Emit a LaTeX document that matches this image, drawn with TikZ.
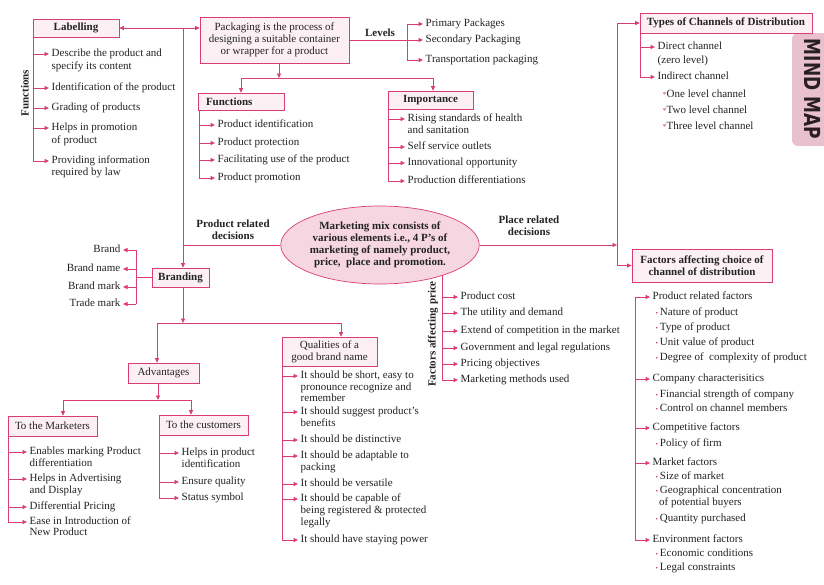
\documentclass[tikz,border=0pt]{standalone}
\usepackage{fontspec}
\setmainfont{Liberation Serif}
\newfontfamily\tabfont{DejaVu Sans}
\usetikzlibrary{arrows.meta,shapes.geometric,backgrounds}
\definecolor{pk}{RGB}{218,62,112}
\definecolor{boxfill}{RGB}{252,240,244}
\definecolor{ellfill}{RGB}{246,214,225}
\definecolor{tabfill}{RGB}{232,192,206}
\definecolor{tabtxt}{RGB}{40,30,35}
\definecolor{txt}{RGB}{35,35,35}
\newcommand\myfs{\fontsize{11}{12}\selectfont}
\newcommand\bul{\textcolor{pk}{\scriptsize\textbullet}\,}
\newcommand\stx{\textcolor{pk}{\footnotesize *}}
\begin{document}
\begin{tikzpicture}[x=1pt,y=-1pt,
 every node/.style={text=txt},
 ln/.style={draw=pk,line width=0.8pt},
 arr/.style={ln,-{Triangle[length=4.5pt,width=4pt]}},
 darr/.style={ln,{Triangle[length=4.5pt,width=4pt]}-{Triangle[length=4.5pt,width=4pt]}},
 box/.style={draw=pk,fill=boxfill,line width=0.7pt,inner sep=0pt,align=center,font=\myfs},
 bbox/.style={box,font=\myfs\bfseries},
 itm/.style={anchor=west,inner xsep=2.5pt,inner ysep=0pt,text height=7pt,text depth=2pt,font=\myfs},
 ritm/.style={itm,anchor=east},
 lbl/.style={font=\myfs\bfseries,align=center,inner sep=0pt},
]
\useasboundingbox (0,0) rectangle (824,584);

% MIND MAP tab
\fill[tabfill,rounded corners=6pt] (792,33) rectangle (836,146);
\node[rotate=-90,inner sep=0pt,font=\tabfont\bfseries\fontsize{17}{17}\selectfont,text=tabtxt] (mind) at (813,89) {\scalebox{1}[1.3]{MIND MAP}};

% Labelling
\node[bbox,minimum width=86,minimum height=18] (lab) at (76,28) {Labelling};
\node[lbl,rotate=90] (labfn) at (25,93) {Functions};
\node[itm] (l1) at (49,54) {Describe the product and};
\node[itm] (l1b) at (49,67) {specify its content};
\node[itm] (l2) at (49,88) {Identification of the product};
\node[itm] (l3) at (49,108) {Grading of products};
\node[itm] (l4) at (49,128) {Helps in promotion};
\node[itm] (l4b) at (49,141) {of product};
\node[itm] (l5) at (49,161) {Providing information};
\node[itm] (l5b) at (49,173) {required by law};
\coordinate (labv) at ([xshift=1pt]lab.south west);
\draw[arr] (labv) |- (l5.west);
\foreach \n in {l1,l2,l3,l4} \draw[arr] (labv |- \n.west) -- (\n.west);

% Packaging
\node[box,minimum width=149,minimum height=46] (pack) at (274.5,40) {Packaging is the process of\\designing a suitable container\\or wrapper for a product};
\draw[darr] (lab.east) -- (pack.west |- lab.east);
\coordinate (j1) at (183,28);

% Levels
\coordinate (lv) at (407,40);
\node[lbl] (lev) at (380,33) {Levels};
\node[itm] (p1) at (423,24) {Primary Packages};
\node[itm] (p2) at (423,40) {Secondary Packaging};
\node[itm] (p3) at (423,60) {Transportation packaging};
\draw[ln] (pack.east) -- (lv |- pack.east);
\draw[ln] (lv |- p1.west) -- (lv |- p3.west);
\foreach \n in {p1,p2,p3} \draw[arr] (lv |- \n.west) -- (\n.west);

% Functions / Importance of packaging
\coordinate (pk1) at (279,78);
\coordinate (pkL) at (241,78);
\coordinate (pkR) at (433,78);
\node[bbox,minimum width=86,minimum height=17] (fn) at (241,101.5) {\makebox[70pt][l]{Functions}};
\node[bbox,minimum width=85,minimum height=18] (imp) at (430.5,100) {Importance};
\draw[arr] (pack.south -| pk1) -- (pk1);
\draw[ln] (pkL) -- (pkR);
\draw[arr] (pkL) -- (pkL |- fn.north);
\draw[arr] (pkR) -- (pkR |- imp.north);

\node[itm] (f1) at (215,125) {Product identification};
\node[itm] (f2) at (215,143) {Product protection};
\node[itm] (f3) at (215,160) {Facilitating use of the product};
\node[itm] (f4) at (215,178) {Product promotion};
\coordinate (fnv) at ([xshift=2pt]fn.south west);
\draw[arr] (fnv) |- (f4.west);
\foreach \n in {f1,f2,f3} \draw[arr] (fnv |- \n.west) -- (\n.west);

\node[itm] (i1) at (405,119) {Rising standards of health};
\node[itm] (i1b) at (405,131) {and sanitation};
\node[itm] (i2) at (405,147) {Self service outlets};
\node[itm] (i3) at (405,163) {Innovational opportunity};
\node[itm] (i4) at (405,181) {Production differentiations};
\coordinate (impv) at ([xshift=1pt]imp.south west);
\draw[arr] (impv) |- (i4.west);
\foreach \n in {i1,i2,i3} \draw[arr] (impv |- \n.west) -- (\n.west);

% Central ellipse
\node[ellipse,draw=pk,fill=ellfill,line width=0.7pt,minimum width=186,minimum height=78,inner sep=0pt,align=center,font=\myfs\bfseries] (mm) at (380,245) {Marketing mix consists of\\various elements i.e., 4 P’s of\\marketing of namely product,\\price,\ \ place and promotion.};

% Branding
\node[bbox,minimum width=57,minimum height=19] (brand) at (180.5,277.5) {Branding};
\draw[arr] (j1) -- (j1 |- brand.north);
\draw[ln] (j1 |- mm.west) -- (mm.west);
\node[lbl] (prd) at (233,230) {Product related\\decisions};

\coordinate (bv) at (136,278);
\node[ritm] (b1) at (123,250) {Brand};
\node[ritm] (b2) at (123,269) {Brand name};
\node[ritm] (b3) at (123,287) {Brand mark};
\node[ritm] (b4) at (123,304) {Trade mark};
\draw[ln] (brand.west) -- (bv |- brand.west);
\draw[ln] (bv |- b1.east) -- (bv |- b4.east);
\foreach \n in {b1,b2,b3,b4} \draw[arr] (bv |- \n.east) -- (\n.east);

% split below branding
\node[box,minimum width=71,minimum height=20] (adv) at (163.5,373) {Advantages};
\node[box,minimum width=95,minimum height=29] (qual) at (329.5,351.5) {Qualities of a\\good brand name};
\coordinate (sp) at (183,323);
\coordinate (spL) at (157,323);
\coordinate (spR) at (341,323);
\draw[arr] (j1 |- brand.south) -- (sp);
\draw[ln] (spL) -- (spR);
\draw[arr] (spL) -- (spL |- adv.north);
\draw[arr] (spR) -- (spR |- qual.north);

% Advantages
\node[box,minimum width=89,minimum height=20] (mk) at (52.5,426) {To the Marketers};
\node[box,minimum width=89,minimum height=20] (cu) at (203.5,425) {To the customers};
\coordinate (as) at (158,400);
\coordinate (asL) at (63,400);
\coordinate (asR) at (191,400);
\draw[arr] (as |- adv.south) -- (as);
\draw[ln] (asL) -- (asR);
\draw[arr] (asL) -- (asL |- mk.north);
\draw[arr] (asR) -- (asR |- cu.north);

\node[itm] (m1) at (27,452) {Enables marking Product};
\node[itm] (m1b) at (27,464) {differentiation};
\node[itm] (m2) at (27,479) {Helps in Advertising};
\node[itm] (m2b) at (27,491) {and Display};
\node[itm] (m3) at (27,507) {Differential Pricing};
\node[itm] (m4) at (27,522) {Ease in Introduction of};
\node[itm] (m4b) at (27,533) {New Product};
\coordinate (mkv) at ([xshift=1pt]mk.south west);
\draw[arr] (mkv) |- (m4.west);
\foreach \n in {m1,m2,m3} \draw[arr] (mkv |- \n.west) -- (\n.west);

\node[itm] (c1) at (179,453) {Helps in product};
\node[itm] (c1b) at (179,465) {identification};
\node[itm] (c2) at (179,482) {Ensure quality};
\node[itm] (c3) at (179,498) {Status symbol};
\coordinate (cuv) at ([xshift=1pt]cu.south west);
\draw[arr] (cuv) |- (c3.west);
\foreach \n in {c1,c2} \draw[arr] (cuv |- \n.west) -- (\n.west);

% Qualities
\node[itm] (q1) at (298,376) {It should be short, easy to};
\node[itm] (q1b) at (298,388) {pronounce recognize and};
\node[itm] (q1c) at (298,399) {remember};
\node[itm] (q2) at (298,412) {It should suggest product’s};
\node[itm] (q2b) at (298,424) {benefits};
\node[itm] (q3) at (298,440) {It should be distinctive};
\node[itm] (q4) at (298,456) {It should be adaptable to};
\node[itm] (q4b) at (298,468) {packing};
\node[itm] (q5) at (298,484) {It should be versatile};
\node[itm] (q6) at (298,499) {It should be capable of};
\node[itm] (q6b) at (298,511) {being registered \& protected};
\node[itm] (q6c) at (298,523) {legally};
\node[itm] (q7) at (298,540) {It should have staying power};
\coordinate (qv) at ([xshift=1pt]qual.south west);
\draw[arr] (qv) |- (q7.west);
\foreach \n in {q1,q2,q3,q4,q5,q6} \draw[arr] (qv |- \n.west) -- (\n.west);

% Factors affecting price
\coordinate (prv) at (442,380);
\node[lbl,rotate=90] (fap) at (433,334) {Factors affecting price};
\node[itm] (pf1) at (458,297) {Product cost};
\node[itm] (pf2) at (458,313) {The utility and demand};
\node[itm] (pf3) at (458,331) {Extend of competition in the market};
\node[itm] (pf4) at (458,348) {Government and legal regulations};
\node[itm] (pf5) at (458,364) {Pricing objectives};
\node[itm] (pf6) at (458,380) {Marketing methods used};
\foreach \n in {pf1,pf2,pf3,pf4,pf5,pf6} \draw[arr] (prv |- \n.west) -- (\n.west);

% Place related
\coordinate (pv) at (617,23);
\node[bbox,minimum width=172,minimum height=20] (tc) at (726,23) {Types of Channels of Distribution};
\node[bbox,minimum width=140,minimum height=33] (fc) at (702,265.5) {Factors affecting choice of\\channel of distribution};
\draw[arr] (mm.east) -- (pv |- mm.east);
\draw[arr] (pv |- fc.west) -- (pv) -- (tc.west);
\draw[arr] (pv |- fc.west) -- (fc.west);
\node[lbl] (pld) at (529,226) {Place related\\decisions};

% Types of channels
\node[itm] (t1) at (655,47) {Direct channel};
\node[itm] (t1b) at (655,61) {(zero level)};
\node[itm] (t2) at (655,77) {Indirect channel};
\node[itm] (s1) at (660,95) {\stx One level channel};
\node[itm] (s2) at (660,111) {\stx Two level channel};
\node[itm] (s3) at (660,127) {\stx Three level channel};
\coordinate (tcv) at ([xshift=1pt]tc.south west);
\draw[arr] (tcv) |- (t2.west);
\draw[arr] (tcv |- t1.west) -- (t1.west);

% Factors affecting choice of channel
\node[itm] (g1) at (650,297) {Product related factors};
\node[itm] (g1a) at (653,313) {\bul Nature of product};
\node[itm] (g1b) at (653,328) {\bul Type of product};
\node[itm] (g1c) at (653,343) {\bul Unit value of product};
\node[itm] (g1d) at (653,358) {\bul Degree of\ \ complexity of product};
\node[itm] (g2) at (650,379) {Company characterisitics};
\node[itm] (g2a) at (653,395) {\bul Financial strength of company};
\node[itm] (g2b) at (653,409) {\bul Control on channel members};
\node[itm] (g3) at (650,428) {Competitive factors};
\node[itm] (g3a) at (653,444) {\bul Policy of firm};
\node[itm] (g4) at (650,463) {Market factors};
\node[itm] (g4a) at (653,477) {\bul Size of market};
\node[itm] (g4b) at (653,491) {\bul Geographical concentration};
\node[itm] (g4c) at (656.5,503) {of potential buyers};
\node[itm] (g4d) at (653,519) {\bul Quantity purchased};
\node[itm] (g5) at (650,540) {Environment factors};
\node[itm] (g5a) at (653,554) {\bul Economic conditions};
\node[itm] (g5b) at (653,568) {\bul Legal constraints};
\coordinate (fcv) at (635,297);
\draw[ln] (fcv |- g1.west) -- (fcv |- g5.west);
\foreach \n in {g1,g2,g3,g4,g5} \draw[arr] (fcv |- \n.west) -- (\n.west);

\begin{pgfonlayer}{background}
\fill[white] (0,0) rectangle (824,584);
\draw[ln] (prv |- mm.center) -- (prv |- pf6.west);
\end{pgfonlayer}
\end{tikzpicture}
\end{document}
